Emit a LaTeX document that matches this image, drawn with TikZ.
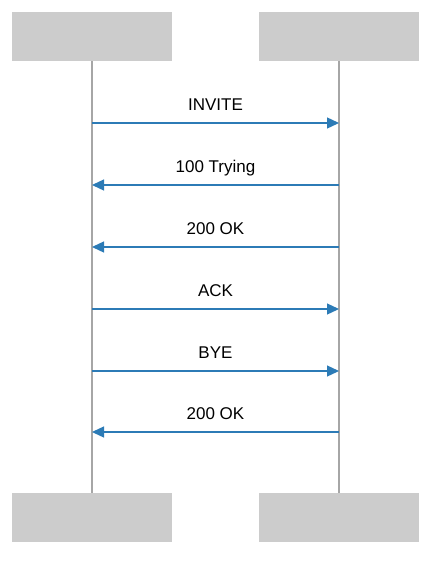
\documentclass[tikz,border=0pt]{standalone}
\usepackage{fontspec}
\setmainfont{Liberation Sans}
\usetikzlibrary{arrows.meta}
\definecolor{boxgray}{HTML}{CCCCCC}
\definecolor{linegray}{HTML}{A6A6A6}
\definecolor{msgblue}{HTML}{2C7BB6}
\begin{document}
\begin{tikzpicture}[x=1pt, y=-1pt,
  box/.style={fill=boxgray, minimum width=160pt, minimum height=49pt, inner sep=0, anchor=north west},
  life/.style={linegray, line width=1.5pt},
  msg/.style={msgblue, line width=1.3pt, -{Triangle[length=12pt, width=11pt]}}]
\useasboundingbox (0,0) rectangle (433,565);
\node[box] (callerTop) at (12,12) {};
\node[box] (calleeTop) at (259,12) {};
\node[box] (callerBot) at (12,493) {};
\node[box] (calleeBot) at (259,493) {};
\draw[life] (callerTop.south) -- (callerBot.north);
\draw[life] (calleeTop.south) -- (calleeBot.north);
\foreach \y/\s/\e/\txt in {123/a/b/INVITE, 185/b/a/100 Trying, 247/b/a/200 OK, 309/a/b/ACK, 371/a/b/BYE, 432/b/a/200 OK} {
 \coordinate (a\y) at (92,\y);
 \coordinate (b\y) at (339,\y);
 \draw[msg] (\s\y) -- (\e\y) node[midway, anchor=base, yshift=13pt, text=black, font=\fontsize{17}{20}\selectfont] {\txt};
}
\end{tikzpicture}
\end{document}
